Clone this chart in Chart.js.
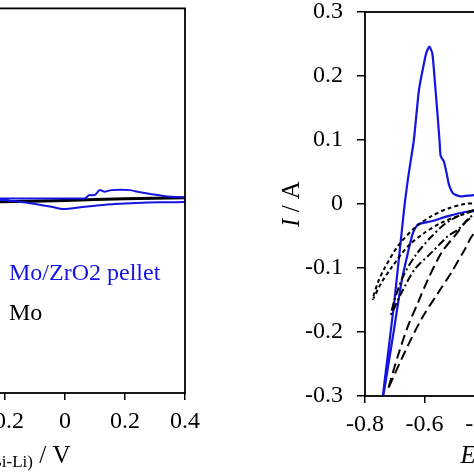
<!DOCTYPE html>
<html>
<head>
<meta charset="utf-8">
<script src="https://cdn.jsdelivr.net/npm/chart.js@4.4.1/dist/chart.umd.min.js"></script>
<style>
    html, body { margin: 0; padding: 0; background: #fff; width: 474px; height: 474px; overflow: hidden; position: relative; }
    canvas { position: absolute; top: -20px; }
    #leftChart { left: -205px; }
    #rightChart { left: 273px; }
</style>
</head>
<body>
<canvas id="leftChart" width="412" height="494"></canvas>
<canvas id="rightChart" width="410" height="494"></canvas>
<script>
// ====================================
// DATA (E in V, I in A)
// ====================================

// left panel: Mo/ZrO2 pellet (blue loop) and bare Mo (black)
const pelletE = [-0.7, -0.222, -0.05, 0.066, 0.08, 0.1, 0.115, 0.132, 0.154, 0.215, 0.242, 0.297, 0.352, 0.4,
                 0.4, 0.275, 0.165, 0.066, -0.006, -0.045, -0.111, -0.222, -0.7];
const pelletI = [0.003, 0.0036, 0.0036, 0.0036, 0.0085, 0.009, 0.0165, 0.014, 0.0165, 0.0165, 0.014, 0.0095, 0.006, 0.0047,
                 -0.0017, -0.0027, -0.0053, -0.0095, -0.0131, -0.0095, -0.0042, 0.0009, 0.002];
const moE = [-0.7, -0.222, 0, 0.2, 0.4];
const moI = [-0.004, -0.0017, 0.0005, 0.003, 0.0045];

// right panel: blue CV
const blueE = [-0.25, -0.431, -0.465, -0.521, -0.577, -0.622, -0.639, -0.656, -0.678, -0.706, -0.741,
               -0.701, -0.669, -0.654, -0.636, -0.619, -0.602, -0.593, -0.584, -0.574, -0.566, -0.557, -0.55,
               -0.546, -0.535, -0.526, -0.518, -0.503, -0.478, -0.434, -0.35, -0.25];
const blueI = [-0.007, -0.011, -0.0125, -0.019, -0.027, -0.032, -0.045, -0.076, -0.123, -0.206, -0.305,
               -0.15, -0.009, 0.045, 0.1, 0.178, 0.22, 0.238, 0.246, 0.235, 0.194, 0.142, 0.1,
               0.075, 0.066, 0.048, 0.03, 0.016, 0.012, 0.014, 0.013, 0.012];

// right panel: black curves
const shortDashE = [-0.3, -0.431, -0.465, -0.521, -0.577, -0.633, -0.69, -0.734, -0.757, -0.774,
                    -0.745, -0.712, -0.656, -0.6, -0.543, -0.488, -0.431, -0.3];
const shortDashI = [0.002, 0.001, 0.0, -0.007, -0.019, -0.037, -0.066, -0.1, -0.123, -0.149,
                    -0.123, -0.1, -0.066, -0.045, -0.029, -0.019, -0.011, -0.004];
const dashDotE = [-0.3, -0.431, -0.488, -0.521, -0.577, -0.633, -0.678, -0.712,
                  -0.701, -0.67, -0.63, -0.579, -0.522, -0.431, -0.3];
const dashDotI = [-0.006, -0.016, -0.04, -0.05, -0.076, -0.102, -0.139, -0.172,
                  -0.15, -0.111, -0.08, -0.052, -0.028, -0.009, -0.003];
const longDashE = [-0.3, -0.442, -0.499, -0.543, -0.589, -0.622, -0.656, -0.69, -0.723,
                   -0.718, -0.667, -0.611, -0.555, -0.51, -0.465, -0.431, -0.3];
const longDashI = [-0.008, -0.021, -0.05, -0.076, -0.118, -0.154, -0.191, -0.238, -0.29,
                   -0.284, -0.232, -0.18, -0.139, -0.107, -0.071, -0.045, -0.015];

const legendLabels = ['Mo/ZrO2 pellet', 'Mo'];

const BLUE = '#1414e0';
const SERIF = "'Liberation Serif', 'Times New Roman', serif";

// pair up E and I arrays
function pts(E, I) {
    return E.map((e, i) => ({ x: e, y: I[i] }));
}

function tickText(v) {
    const r = Math.round(v * 10) / 10;
    return r === 0 ? '0' : String(r);
}

// box around the plot area
const framePlugin = {
    id: 'frame',
    afterDatasetsDraw(chart) {
        const a = chart.chartArea;
        const ctx = chart.ctx;
        ctx.save();
        ctx.strokeStyle = '#000';
        ctx.lineWidth = 1.8;
        ctx.strokeRect(a.left, a.top, a.right - a.left, a.bottom - a.top);
        ctx.restore();
    }
};

// draw a row of text parts [text, font, dy]
function drawParts(ctx, parts, x0, y) {
    let x = x0;
    parts.forEach(p => {
        ctx.font = p[1];
        ctx.fillText(p[0], x, y + (p[2] || 0));
        x += ctx.measureText(p[0]).width;
    });
}
function partsWidth(ctx, parts) {
    let w = 0;
    parts.forEach(p => { ctx.font = p[1]; w += ctx.measureText(p[0]).width; });
    return w;
}

const xTitleParts = [
    ['E', 'italic 25px ' + SERIF],
    ['(Bi-Li)', '17px ' + SERIF, 4],
    [' / V', '25px ' + SERIF]
];
const yTitleParts = [
    ['I', 'italic 25px ' + SERIF],
    [' / A', '25px ' + SERIF]
];

// axis titles with italic symbol and subscript
const titlesPlugin = {
    id: 'axisTitles',
    afterDraw(chart) {
        const ctx = chart.ctx;
        const a = chart.chartArea;
        ctx.save();
        ctx.fillStyle = '#000';
        ctx.textBaseline = 'alphabetic';
        ctx.textAlign = 'left';

        const cx = (a.left + a.right) / 2;
        const w = partsWidth(ctx, xTitleParts);
        drawParts(ctx, xTitleParts, cx - w / 2, chart.height - 11);

        const ys = chart.scales.y;
        ctx.translate(ys.left + 19, (a.top + a.bottom) / 2);
        ctx.rotate(-Math.PI / 2);
        ctx.textBaseline = 'middle';
        const wy = partsWidth(ctx, yTitleParts);
        drawParts(ctx, yTitleParts, -wy / 2, 0);
        ctx.restore();
    }
};

// plain text legend inside the left plot
const legendPlugin = {
    id: 'textLegend',
    afterDraw(chart) {
        const ctx = chart.ctx;
        const a = chart.chartArea;
        ctx.save();
        ctx.font = '24px ' + SERIF;
        ctx.textBaseline = 'alphabetic';
        ctx.textAlign = 'left';
        chart.data.datasets.forEach((ds, i) => {
            ctx.fillStyle = ds.borderColor;
            ctx.fillText(legendLabels[i], a.left + 154, a.top + 272 + i * 40);
        });
        ctx.restore();
    }
};

function axisOptions(min, max, step, size, isX) {
    return {
        type: 'linear',
        min: min,
        max: max,
        border: { display: false },
        grid: {
            drawOnChartArea: false,
            drawTicks: true,
            tickLength: isX ? 7 : 8,
            color: '#000',
            lineWidth: 1.5
        },
        ticks: {
            stepSize: step,
            autoSkip: false,
            maxRotation: 0,
            padding: isX ? 7 : 14,
            color: '#000',
            font: { family: SERIF, size: 24 },
            callback: tickText
        },
        afterFit(scale) {
            if (isX) scale.height = size; else scale.width = size;
        }
    };
}

function lineSet(data, color, width, dash, tension) {
    return {
        data: data,
        showLine: true,
        borderColor: color,
        backgroundColor: color,
        borderWidth: width,
        borderDash: dash,
        pointRadius: 0,
        tension: tension,
        fill: false
    };
}

// Left panel
new Chart(document.getElementById('leftChart'), {
    type: 'scatter',
    data: {
        datasets: [
            lineSet(pts(pelletE, pelletI), BLUE, 2, [], 0.2),
            lineSet(pts(moE, moI), '#000', 3, [], 0.2)
        ]
    },
    options: {
        responsive: false,
        animation: false,
        devicePixelRatio: 1,
        layout: { padding: { top: 28, right: 19, left: 0, bottom: 0 } },
        plugins: { legend: { display: false }, tooltip: { enabled: false } },
        scales: {
            x: axisOptions(-0.7, 0.4, 0.2, 81, true),
            y: axisOptions(-0.3, 0.3, 0.1, 60, false)
        }
    },
    plugins: [framePlugin, titlesPlugin, legendPlugin]
});

// Right panel
new Chart(document.getElementById('rightChart'), {
    type: 'scatter',
    data: {
        datasets: [
            lineSet(pts(longDashE, longDashI), '#000', 2, [10, 5], 0.3),
            lineSet(pts(dashDotE, dashDotI), '#000', 2, [8, 3, 2, 3], 0.3),
            lineSet(pts(shortDashE, shortDashI), '#000', 2, [4, 3], 0.3),
            lineSet(pts(blueE, blueI), BLUE, 2.2, [], 0.2)
        ]
    },
    options: {
        responsive: false,
        animation: false,
        devicePixelRatio: 1,
        layout: { padding: { top: 32, right: 26, left: 0, bottom: 0 } },
        plugins: { legend: { display: false }, tooltip: { enabled: false } },
        scales: {
            x: axisOptions(-0.8, 0.18, 0.2, 78, true),
            y: axisOptions(-0.3, 0.3, 0.1, 92, false)
        }
    },
    plugins: [framePlugin, titlesPlugin]
});
</script>
</body>
</html>
